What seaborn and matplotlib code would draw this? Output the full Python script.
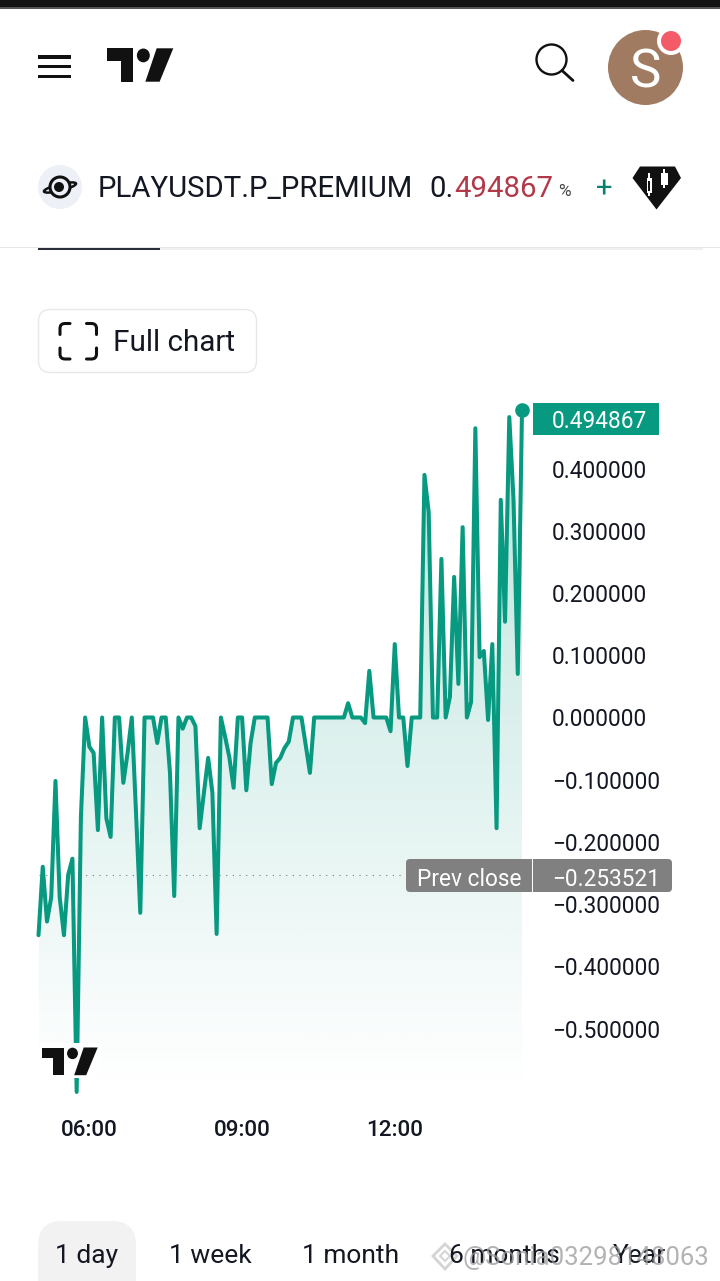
import numpy as np
import pandas as pd
import seaborn as sns
import matplotlib
matplotlib.use("Agg")
import matplotlib.pyplot as plt
import matplotlib.dates as mdates
from matplotlib.patches import Rectangle, FancyBboxPatch, Circle, Polygon, Ellipse, PathPatch
from matplotlib.path import Path
from matplotlib.colors import LinearSegmentedColormap
from matplotlib.ticker import FuncFormatter

# ---- data ----
start_time = "2024-01-01 05:00"
step_minutes = 5
premium = [
    -0.350, -0.240, -0.328, -0.289, -0.102, -0.289, -0.350, -0.253, -0.227, -0.602,
    -0.160, 0.000, -0.047, -0.057, -0.181, 0.000, -0.162, -0.192, 0.000, 0.000,
    -0.105, -0.057, 0.000, -0.154, -0.314, 0.000, 0.000, 0.000, -0.041, 0.000,
    0.000, -0.089, -0.287, 0.000, -0.018, 0.000, 0.000, -0.014, -0.178, -0.121,
    -0.065, -0.121, -0.348, 0.000, -0.031, -0.064, -0.113, 0.000, 0.000, -0.117,
    -0.041, 0.000, 0.000, 0.000, 0.000, -0.107, -0.073, -0.065, -0.049, -0.039,
    0.000, 0.000, 0.000, -0.044, -0.089, 0.000, 0.000, 0.000, 0.000, 0.000,
    0.000, 0.000, 0.000, 0.023, 0.000, 0.000, 0.000, -0.009, 0.075, 0.000,
    0.000, 0.000, 0.000, -0.022, 0.118, 0.000, 0.000, -0.078, 0.000, 0.000,
    0.000, 0.390, 0.330, 0.000, 0.000, 0.255, 0.000, 0.033, 0.226, 0.054,
    0.306, 0.000, 0.025, 0.465, 0.097, 0.107, -0.004, 0.118, -0.178, 0.350,
    0.154, 0.483, 0.350, 0.070, 0.494867,
]
prev_close = -0.253521
last_value = 0.494867
y_ticks = [0.4, 0.3, 0.2, 0.1, 0.0, -0.1, -0.2, -0.3, -0.4, -0.5]
x_ticks = ["2024-01-01 06:00", "2024-01-01 09:00", "2024-01-01 12:00"]
symbol = "PLAYUSDT.P_PREMIUM"
range_tabs = ["1 day", "1 week", "1 month", "6 months", "Year"]

W, H = 720, 1281
TEAL = "#089981"
INK = "#131722"

sns.set_theme(style="white")
plt.rcParams["font.family"] = ["Roboto", "DejaVu Sans"]

fig = plt.figure(figsize=(W / 100, H / 100), dpi=100, facecolor="white")


def px_rect(l, t, r, b):
    return [l / W, 1 - b / H, (r - l) / W, (b - t) / H]


# ---- chart ----
ax = fig.add_axes(px_rect(38.5, 395, 522, 1100), zorder=2)
ax.patch.set_alpha(0)
df = pd.DataFrame({
    "time": pd.date_range(start_time, periods=len(premium), freq=f"{step_minutes}min"),
    "premium": premium,
})
y_top = (717.5 - 395) / 622
y_bot = (717.5 - 1100) / 622
ax.set_ylim(y_bot, y_top)
ax.set_xlim(df["time"].iloc[0], df["time"].iloc[-1])

fill_floor = (717.5 - 1092) / 622
poly = ax.fill_between(df["time"], df["premium"], fill_floor, color="none", lw=0)
cmap = LinearSegmentedColormap.from_list(
    "fade", [(8/255, 153/255, 129/255, 0.27), (8/255, 153/255, 129/255, 0.0)])
xl = mdates.date2num(df["time"].iloc[0]), mdates.date2num(df["time"].iloc[-1])
img = ax.imshow(np.linspace(0, 1, 256).reshape(-1, 1), cmap=cmap, aspect="auto",
                extent=[xl[0], xl[1], fill_floor, last_value], origin="upper", zorder=1)
img.set_clip_path(poly.get_paths()[0], transform=ax.transData)
ax.set_xlim(df["time"].iloc[0], df["time"].iloc[-1])
ax.set_ylim(y_bot, y_top)

ax.axhline(prev_close, color="#777777", lw=0.8, ls=(0, (1, 5)), zorder=1.5)
sns.lineplot(data=df, x="time", y="premium", color=TEAL, lw=2.9, ax=ax, zorder=3,
             clip_on=False, solid_joinstyle="round", errorbar=None)
ax.plot(df["time"].iloc[-1], last_value, "o", color=TEAL, ms=10.5, mew=0, clip_on=False, zorder=4)

ax.set_xlabel("")
ax.set_ylabel("")
ax.yaxis.tick_right()
ax.set_yticks(y_ticks)
ax.yaxis.set_major_formatter(FuncFormatter(lambda v, _: f"{v:.6f}".replace("-", "\u2212")))
ax.set_xticks(pd.to_datetime(x_ticks))
ax.xaxis.set_major_formatter(mdates.DateFormatter("%H:%M"))
ax.tick_params(axis="y", length=0, pad=21.6, labelsize=16.3, labelcolor=INK)
ax.tick_params(axis="x", length=0, pad=14.5, labelsize=16.2, labelcolor=INK)
for lab in ax.get_xticklabels():
    lab.set_fontweight("medium")
sns.despine(ax=ax, left=True, bottom=True, right=True, top=True)
ax.grid(False)

# ---- page furniture, in pixel coordinates ----
ui = fig.add_axes([0, 0, 1, 1], zorder=5)
ui.set_xlim(0, W)
ui.set_ylim(H, 0)
ui.axis("off")
ui.patch.set_alpha(0)


def txt(x, y, s, size, color=INK, ha="left", **kw):
    return ui.text(x, y, s, fontsize=size, color=color, ha=ha, va="center_baseline", **kw)


def logo(x, y, w, h, fc="#111111"):
    sx, sy = w / 36, h / 15
    pts = lambda P: [(x + a * sx, y + b * sy) for a, b in P]
    ui.add_patch(Polygon(pts([(0, 0), (14.4, 0), (14.4, 15), (7.5, 15), (7.5, 5.6), (0, 5.6)]), fc=fc, lw=0))
    ui.add_patch(Polygon(pts([(27, 0), (36, 0), (28.6, 15), (20.9, 15)]), fc=fc, lw=0))
    ui.add_patch(Ellipse((x + 19.8 * sx, y + 3.2 * sy), 7.0 * sx, 6.2 * sy, fc=fc, lw=0))


def corner(xc, yc, dx, dy, r=5):
    verts = [(xc + dx * 10, yc), (xc + dx * r, yc), (xc, yc), (xc, yc + dy * r), (xc, yc + dy * 11)]
    codes = [Path.MOVETO, Path.LINETO, Path.CURVE3, Path.CURVE3, Path.LINETO]
    ui.add_patch(PathPatch(Path(verts, codes), fc="none", ec="#111111", lw=2.2, capstyle="round"))


# top bar
ui.add_patch(Rectangle((0, 0), W, 7, fc="#131313", lw=0))
ui.add_patch(Rectangle((0, 7), W, 2, fc="#555555", lw=0))

# header
for yy in (57, 66.5, 76.5):
    ui.add_patch(Rectangle((38, yy - 1.7), 33, 3.4, fc="#111111", lw=0))
logo(106.7, 48.3, 66.6, 33.4)
ui.add_patch(Circle((551.5, 59.5), 15, fc="none", ec="#111111", lw=1.7))
ui.plot([562, 573], [70.5, 80.5], color="#111111", lw=2.0, solid_capstyle="round")
ui.add_patch(Circle((645.5, 67.5), 37.5, fc="#A07B62", lw=0))
txt(646, 68, "S", 38, color="white", ha="center")
ui.add_patch(Circle((671, 41), 14, fc="white", lw=0))
ui.add_patch(Circle((671, 41), 10, fc="#F45B69", lw=0))

# symbol row
ui.add_patch(Circle((60, 187), 22, fc="#EDF1F7", lw=0))
ui.add_patch(Ellipse((60, 187.5), 33, 6.5, angle=-14, fc="none", ec="#111111", lw=1.8))
ui.add_patch(Circle((60, 187), 10, fc="#EDF1F7", ec="#111111", lw=2.2))
ui.add_patch(Circle((59, 187), 5, fc="#111111", lw=0))
txt(98, 186, symbol, 21.2)
txt(429, 186, "0.", 21.2)
txt(454, 186, f"{last_value:.6f}"[2:], 21.2, color="#B2394A")
txt(558, 190, "%", 12.5, color="#444444")
txt(604.5, 186.5, "+", 21, color="#0B7F6E", ha="center")
ui.add_patch(Polygon([(640, 166.5), (675, 166.5), (681, 178), (656.5, 209.5), (632.5, 178)], fc="#111111", lw=0))
ui.add_patch(Rectangle((648.2, 173), 1.6, 23, fc="white", lw=0))
ui.add_patch(Rectangle((646.5, 178), 5.5, 15, fc="white", lw=0))
ui.add_patch(Rectangle((648.2, 180.5), 2, 10, fc="#111111", lw=0))
ui.add_patch(Rectangle((663.2, 169), 1.6, 19, fc="white", lw=0))
ui.add_patch(Rectangle((661, 173), 6.5, 12, fc="white", lw=0))

# tab strip under header
ui.add_patch(Rectangle((0, 247), W, 1, fc="#E6E6E6", lw=0))
ui.add_patch(Rectangle((160, 247.5), 543, 2.5, fc="#F0F0F0", lw=0))
ui.add_patch(Rectangle((38, 247.5), 122, 2.5, fc="#2A2E39", lw=0))

# full chart button
ui.add_patch(FancyBboxPatch((38.5, 309.5), 218, 63, boxstyle="round,pad=0,rounding_size=12",
                            fc="white", ec="#E8E8E8", lw=1))
corner(60, 323.5, 1, 1)
corner(96.5, 323.5, -1, 1)
corner(60, 359, 1, -1)
corner(96.5, 359, -1, -1)
txt(113, 340, "Full chart", 21.3)

# last price flag
ui.add_patch(Rectangle((533, 403), 126, 32, fc=TEAL, lw=0))
txt(552, 419, f"{last_value:.6f}", 16.3, color="white")

# prev close flag
ui.add_patch(FancyBboxPatch((406, 859), 266, 33, boxstyle="round,pad=0,rounding_size=4",
                            fc="#808080", lw=0))
ui.add_patch(Rectangle((532, 859), 1.2, 33, fc="white", lw=0))
txt(417, 876.5, "Prev close", 16.3, color="white")
txt(552, 876.5, f"{prev_close:.6f}".replace("-", "\u2212"), 16.3, color="white")

# chart watermark
ui.add_patch(FancyBboxPatch((39, 1043), 62, 35, boxstyle="round,pad=0,rounding_size=4", fc="white", lw=0))
logo(41.7, 1047.5, 56, 27.7)

# range tabs
ui.add_patch(FancyBboxPatch((38, 1221), 98, 90, boxstyle="round,pad=0,rounding_size=24",
                            fc="#F2F2F2", lw=0, clip_on=True))
tab_x = [87, 210.5, 351, 504, 639]
for s, xx in zip(range_tabs, tab_x):
    txt(xx, 1253.5, s, 19, ha="center", zorder=6)

# platform watermark
ui.add_patch(Polygon([(445, 1244), (457, 1256), (445, 1269), (433, 1256)], fc="none", ec="#D4D4D4", lw=2))
ui.add_patch(Polygon([(445, 1251), (450, 1256), (445, 1261), (440, 1256)], fc="none", ec="#D4D4D4", lw=1.4))
txt(463, 1256, "@Sonia03298148063", 18.5, color="#9A9A9A", alpha=0.75, zorder=7)

fig.savefig("out.png", dpi=100, facecolor="white")
